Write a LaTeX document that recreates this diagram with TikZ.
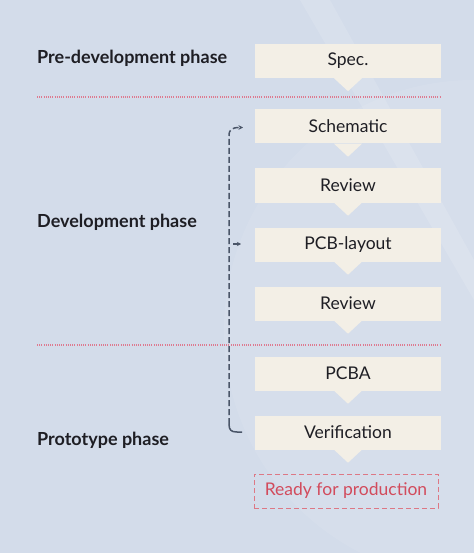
\documentclass[tikz,border=0pt]{standalone}
\usepackage{fontspec}
\setmainfont{Lato}
\usetikzlibrary{arrows.meta}
\definecolor{bg}{HTML}{D3DCEA}
\definecolor{boxfill}{HTML}{F3EFE6}
\definecolor{txt}{HTML}{1E1E24}
\definecolor{sepc}{HTML}{DE7A90}
\definecolor{loopc}{HTML}{4A5568}
\definecolor{readyc}{HTML}{D24B5C}
\tikzset{
  stepbox/.style={fill=boxfill, minimum width=186pt, minimum height=34pt, inner sep=0pt, text=txt, font=\fontsize{17.5}{20}\selectfont},
  phase/.style={anchor=west, text=txt, font=\bfseries\fontsize{18}{21}\selectfont, inner sep=0pt},
  sepline/.style={sepc, line width=1.1pt, dash pattern=on 1pt off 1.2pt},
  loopline/.style={loopc, line width=1.5pt, dash pattern=on 6pt off 3pt},
  ptr/.style={fill=boxfill}
}
\newcommand{\pointer}[1]{\fill[ptr] ([xshift=-14pt]#1.south) -- ([xshift=14pt]#1.south) -- ([yshift=-13pt]#1.south) -- cycle;}
\begin{document}
\begin{tikzpicture}[x=1pt,y=-1pt]
\fill[bg] (0,0) rectangle (474,553);
\useasboundingbox (0,0) rectangle (474,553);
% faint background shapes
\fill[white,opacity=0.12] (300,0) -- (330,0) -- (474,260) -- (474,300) -- cycle;
\fill[white,opacity=0.08] (474,330) circle (250);

\node[stepbox] (spec) at (348,61) {Spec.};
\node[stepbox] (sch) at (348,126.5) {Schematic};
\node[stepbox] (rev1) at (348,185.5) {Review};
\node[stepbox] (pcb) at (348,244.5) {PCB-layout};
\node[stepbox] (rev2) at (348,303.5) {Review};
\node[stepbox] (pcba) at (348,373.5) {PCBA};
\node[stepbox] (ver) at (348,432.5) {Verification};
\node[stepbox, fill=none, draw=readyc!75, dash pattern=on 5pt off 3pt, line width=1pt, text=readyc, minimum width=184pt] (ready) at (346,491) {Ready for production};
\foreach \n in {spec,sch,rev1,pcb,rev2,pcba,ver}{\pointer{\n}}

\node[phase] (p1) at (37,58) {Pre-development phase};
\node[phase] (p2) at (37,222) {Development phase};
\node[phase] (p3) at (37,440) {Prototype phase};

\coordinate (s1a) at (37,97); \coordinate (s1b) at (440,97);
\coordinate (s2a) at (37,345); \coordinate (s2b) at (440,345);
\draw[sepline] (s1a) -- (s1b);
\draw[sepline] (s2a) -- (s2b);

\coordinate (lt) at (229,136);
\coordinate (lb) at (229,424);
\coordinate (at) at (243,127.5);
\coordinate (ab) at (242,432);
\coordinate (ma) at (233,244);
\coordinate (mb) at (241,244);
\draw[loopline, -{Stealth[length=4.5pt,width=4.5pt]}] (lb) -- (lt) .. controls (229,129) and (232,127.5) .. (at);
\draw[loopc, line width=1.5pt] (lb) .. controls (229,430) and (231,432) .. (237,432) -- (ab);
\draw[loopc, line width=1.1pt, -{Stealth[length=4pt,width=4pt]}] (ma) -- (mb);
\end{tikzpicture}
\end{document}
